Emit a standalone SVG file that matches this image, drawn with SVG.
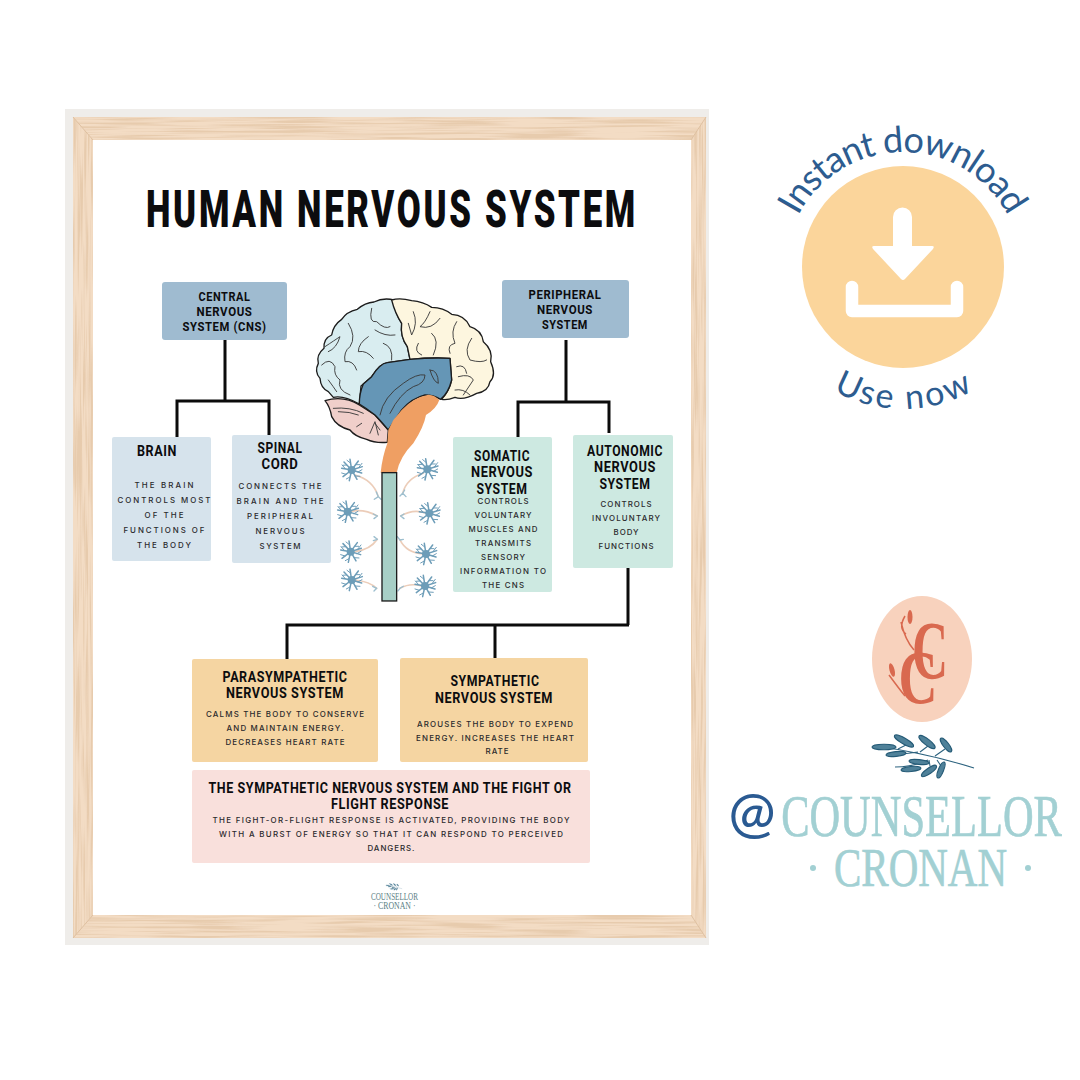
<svg xmlns="http://www.w3.org/2000/svg" xmlns:xlink="http://www.w3.org/1999/xlink" width="1080" height="1080" viewBox="0 0 1080 1080">
<style>
text{text-anchor:middle}
.h{font-family:"Roboto","Liberation Sans",sans-serif;font-weight:700;fill:#0c0c0e;letter-spacing:.7px}
.h1{font-size:13.5px}.h2{font-size:15.5px}.h3{font-size:15px}
.b{font-family:"Inter","Open Sans",sans-serif;font-size:7.900px;font-weight:500;fill:#2a2a2c}
.wire{fill:none;stroke:#0b0b0b;stroke-width:3}
.blue{fill:#9fbbd0}.pale{fill:#d6e3ec}.mint{fill:#cde9e1}.sand{fill:#f5d5a2}.rose{fill:#f9e0dc}
.lobe{stroke:#1c1c1c;stroke-width:4;stroke-linejoin:round}
.sulcus{fill:none;stroke:#3a3a3a;stroke-width:2.800;stroke-linecap:round}
.axon{fill:none;stroke:#eccdb9;stroke-width:5;stroke-linecap:round}
.term{fill:none;stroke:#9dbfcf;stroke-width:4;stroke-linecap:round}
.dl{font-family:"Lato","Open Sans",sans-serif;fill:#2d5c8f}
.brand{font-family:"Liberation Serif",serif;fill:#a2d0d3;stroke:#a2d0d3;stroke-width:.7px}
.tiny{font-family:"Liberation Serif",serif;font-size:10px;fill:#5d7f86}
.leaf{fill:#4f8199;stroke:#245a76;stroke-width:1.100}
.c{font-family:"Liberation Serif",serif;font-weight:700;fill:#d9694f}
.wood{fill:#f3dcc4}
.mitre{stroke:#dfc0a0;stroke-width:1;fill:none}
</style>
<defs>
<filter id="grainH" x="0" y="0" width="100%" height="100%">
<feTurbulence type="fractalNoise" baseFrequency="0.012 0.45" numOctaves="2" seed="4" result="n"/>
<feColorMatrix in="n" type="matrix" values="0 0 0 0 .80  0 0 0 0 .60  0 0 0 0 .42  4 0 0 0 -1.700" result="g"/>
<feComposite in="g" in2="SourceGraphic" operator="in" result="c"/>
<feMerge><feMergeNode in="SourceGraphic"/><feMergeNode in="c"/></feMerge>
</filter>
<filter id="grainV" x="0" y="0" width="100%" height="100%">
<feTurbulence type="fractalNoise" baseFrequency="0.45 0.012" numOctaves="2" seed="9" result="n"/>
<feColorMatrix in="n" type="matrix" values="0 0 0 0 .80  0 0 0 0 .60  0 0 0 0 .42  4 0 0 0 -1.700" result="g"/>
<feComposite in="g" in2="SourceGraphic" operator="in" result="c"/>
<feMerge><feMergeNode in="SourceGraphic"/><feMergeNode in="c"/></feMerge>
</filter>
<g id="neuron">
<g fill="none" stroke="#6d9db8" stroke-width="4.500" stroke-linecap="round">
<path d="M0,0L-30,-5M0,0L-23,-24M0,0L-5,-32M0,0L20,-27M0,0L32,-10M0,0L30,9M0,0L16,28M0,0L-7,32M0,0L-26,20"/>
<path d="M-19,-4L-29,-15M-15,-15L-27,-14M-4,-21L-14,-29M12,-16L24,-16M21,-7L31,-20M19,6L31,-1M10,18L25,19M-5,21L-16,27M-17,13L-30,9" stroke-width="3"/>
</g>
<circle r="12" fill="#6d9db8"/>
</g>
<g id="sprig">
<path d="M-50,-11Q0,-5 51,11M-5,-5Q-25,-2 -35,-2M5,3Q-10,10 -28,10M-25,-8L-17,-12M-3,-5L5,-11M12,-1L22,-8M14,3L18,9M6,3L7,9" fill="none" stroke="#2e6480" stroke-width="1.100"/>
<ellipse class="leaf" cx="-39" cy="-10" rx="12" ry="2.800"/>
<ellipse class="leaf" cx="-27" cy="-3" rx="10" ry="2.400" transform="rotate(-6 -27 -3)"/>
<ellipse class="leaf" cx="-19" cy="-16" rx="11" ry="3" transform="rotate(30 -19 -16)"/>
<ellipse class="leaf" cx="4" cy="-15" rx="10" ry="3" transform="rotate(38 4 -15)"/>
<ellipse class="leaf" cx="23" cy="-12" rx="8.500" ry="2.800" transform="rotate(52 23 -12)"/>
<ellipse class="leaf" cx="-4" cy="5" rx="10" ry="2.400" transform="rotate(6 -4 5)"/>
<ellipse class="leaf" cx="-12" cy="12" rx="10" ry="2.500" transform="rotate(-6 -12 12)"/>
<ellipse class="leaf" cx="6" cy="14" rx="9" ry="2.800" transform="rotate(-35 6 14)"/>
<ellipse class="leaf" cx="18" cy="13" rx="8.500" ry="2.600" transform="rotate(-68 18 13)"/>
</g>
<path id="arcTop" d="M785,270A118,118 0 0 1 1021,270"/>
<path id="arcBottom" d="M761,267A142,142 0 0 0 1045,267"/>
</defs>

<g id="frame">
<rect x="65" y="109" width="644" height="836" fill="#efedea"/>
<polygon class="wood" filter="url(#grainH)" points="73,117 706,117 691,140 93,140"/>
<polygon class="wood" filter="url(#grainH)" points="73,938 706,938 691,915 93,915"/>
<polygon class="wood" filter="url(#grainV)" points="73,117 93,140 93,915 73,938"/>
<polygon class="wood" filter="url(#grainV)" points="706,117 691,140 691,915 706,938"/>
<path class="mitre" d="M73,117L93,140M706,117L691,140M73,938L93,915M706,938L691,915"/>
<rect x="93" y="140" width="598" height="775" fill="#fff"/>
</g>

<text id="title" class="h" x="392" y="227" font-size="52" textLength="492" lengthAdjust="spacingAndGlyphs" style="letter-spacing:4px;font-weight:900">HUMAN NERVOUS SYSTEM</text>

<g id="connectors">
<path class="wire" d="M225,340V400M177,437V401H269V435"/>
<path class="wire" d="M566,340V401M518,437V402H609V433"/>
<path class="wire" d="M628,568V625M287,659V625H629M495,625V658"/>
</g>

<g id="cns">
<rect class="blue" x="162" y="282" width="125" height="58" rx="3"/>
<text class="h h1" x="224.500" y="301" textLength="52" lengthAdjust="spacingAndGlyphs">CENTRAL</text>
<text class="h h1" x="224.500" y="316" textLength="56" lengthAdjust="spacingAndGlyphs">NERVOUS</text>
<text class="h h1" x="224.500" y="331" textLength="84" lengthAdjust="spacingAndGlyphs">SYSTEM (CNS)</text>
</g>
<g id="pns">
<rect class="blue" x="502" y="280" width="127" height="58" rx="3"/>
<text class="h h1" x="565" y="299" textLength="73" lengthAdjust="spacingAndGlyphs">PERIPHERAL</text>
<text class="h h1" x="565" y="314" textLength="56" lengthAdjust="spacingAndGlyphs">NERVOUS</text>
<text class="h h1" x="565" y="329" textLength="46" lengthAdjust="spacingAndGlyphs">SYSTEM</text>
</g>
<g id="brain-box">
<rect class="pale" x="112" y="437" width="99" height="124" rx="2"/>
<text class="h h2" x="157" y="456" textLength="40" lengthAdjust="spacingAndGlyphs">BRAIN</text>
<text class="b" x="164" y="488" textLength="59">THE BRAIN</text>
<text class="b" x="164" y="503" textLength="93">CONTROLS MOST</text>
<text class="b" x="164" y="518" textLength="39">OF THE</text>
<text class="b" x="164" y="533" textLength="81">FUNCTIONS OF</text>
<text class="b" x="164" y="548" textLength="54">THE BODY</text>
</g>
<g id="spinal-box">
<rect class="pale" x="232" y="435" width="99" height="128" rx="2"/>
<text class="h h2" x="280" y="453" textLength="45" lengthAdjust="spacingAndGlyphs">SPINAL</text>
<text class="h h2" x="280" y="469" textLength="37" lengthAdjust="spacingAndGlyphs">CORD</text>
<text class="b" x="280" y="489" textLength="83">CONNECTS THE</text>
<text class="b" x="280" y="504" textLength="87">BRAIN AND THE</text>
<text class="b" x="280" y="519" textLength="66">PERIPHERAL</text>
<text class="b" x="280" y="534" textLength="49">NERVOUS</text>
<text class="b" x="280" y="549" textLength="41">SYSTEM</text>
</g>
<g id="somatic-box">
<rect class="mint" x="453" y="437" width="99" height="155" rx="2"/>
<text class="h h2" x="502" y="461" textLength="56" lengthAdjust="spacingAndGlyphs">SOMATIC</text>
<text class="h h2" x="502" y="477" textLength="62" lengthAdjust="spacingAndGlyphs">NERVOUS</text>
<text class="h h2" x="502" y="494" textLength="51" lengthAdjust="spacingAndGlyphs">SYSTEM</text>
<text class="b" x="503" y="504" textLength="51">CONTROLS</text>
<text class="b" x="503" y="518" textLength="57">VOLUNTARY</text>
<text class="b" x="503" y="532" textLength="69">MUSCLES AND</text>
<text class="b" x="503" y="546" textLength="56">TRANSMITS</text>
<text class="b" x="503" y="560" textLength="44">SENSORY</text>
<text class="b" x="503" y="574" textLength="86">INFORMATION TO</text>
<text class="b" x="503" y="588" textLength="42">THE CNS</text>
</g>
<g id="autonomic-box">
<rect class="mint" x="573" y="435" width="100" height="133" rx="2"/>
<text class="h h2" x="625" y="456" textLength="76" lengthAdjust="spacingAndGlyphs">AUTONOMIC</text>
<text class="h h2" x="625" y="472" textLength="62" lengthAdjust="spacingAndGlyphs">NERVOUS</text>
<text class="h h2" x="625" y="489" textLength="51" lengthAdjust="spacingAndGlyphs">SYSTEM</text>
<text class="b" x="626" y="507" textLength="51">CONTROLS</text>
<text class="b" x="626" y="521" textLength="68">INVOLUNTARY</text>
<text class="b" x="626" y="535" textLength="25">BODY</text>
<text class="b" x="626" y="549" textLength="55">FUNCTIONS</text>
</g>
<g id="parasympathetic-box">
<rect class="sand" x="192" y="659" width="186" height="103" rx="2"/>
<text class="h h3" x="285" y="682" textLength="125" lengthAdjust="spacingAndGlyphs">PARASYMPATHETIC</text>
<text class="h h3" x="285" y="698" textLength="118" lengthAdjust="spacingAndGlyphs">NERVOUS SYSTEM</text>
<text class="b" x="285" y="717" textLength="158">CALMS THE BODY TO CONSERVE</text>
<text class="b" x="285" y="731" textLength="117">AND MAINTAIN ENERGY.</text>
<text class="b" x="285" y="745" textLength="119">DECREASES HEART RATE</text>
</g>
<g id="sympathetic-box">
<rect class="sand" x="400" y="658" width="188" height="104" rx="2"/>
<text class="h h3" x="495" y="686" textLength="89" lengthAdjust="spacingAndGlyphs">SYMPATHETIC</text>
<text class="h h3" x="494" y="703" textLength="118" lengthAdjust="spacingAndGlyphs">NERVOUS SYSTEM</text>
<text class="b" x="495" y="727" textLength="156">AROUSES THE BODY TO EXPEND</text>
<text class="b" x="495" y="741" textLength="158">ENERGY. INCREASES THE HEART</text>
<text class="b" x="497" y="754" textLength="23">RATE</text>
</g>
<g id="fight-box">
<rect class="rose" x="192" y="770" width="398" height="93" rx="2"/>
<text class="h h3" x="390" y="793" textLength="363" lengthAdjust="spacingAndGlyphs">THE SYMPATHETIC NERVOUS SYSTEM AND THE FIGHT OR</text>
<text class="h h3" x="390" y="809" textLength="118" lengthAdjust="spacingAndGlyphs">FLIGHT RESPONSE</text>
<text class="b" x="391" y="823" textLength="357">THE FIGHT-OR-FLIGHT RESPONSE IS ACTIVATED, PROVIDING THE BODY</text>
<text class="b" x="391" y="837" textLength="344">WITH A BURST OF ENERGY SO THAT IT CAN RESPOND TO PERCEIVED</text>
<text class="b" x="391" y="851" textLength="47">DANGERS.</text>
</g>

<g id="brain-figure" transform="translate(300,280) scale(.3333)">
<g>
<path class="axon" d="M165,585Q220,600 235,650M370,580Q320,595 308,640M150,695Q190,685 232,708M380,700Q340,685 302,708M165,815Q210,810 232,778M370,822Q320,820 300,780M165,900Q210,905 230,925M365,918Q330,908 300,925"/>
<path class="term" d="M235,650l-12,8m12,-8l-6,-14m6,14l8,8M308,640l10,10m-10,-10l-8,8m8,-8l6,-10M232,708l-12,-6m12,6l-10,8M302,708l10,-6m-10,6l10,8M232,778l-10,-8m10,8l-12,4M300,780l-8,-10m8,10l10,-2M230,925l-12,-6m12,6l-8,8M300,925l10,-6m-10,6l-6,8"/>
<use xlink:href="#neuron" href="#neuron" x="155" y="570"/>
<use xlink:href="#neuron" href="#neuron" x="382" y="568"/>
<use xlink:href="#neuron" href="#neuron" x="143" y="695"/>
<use xlink:href="#neuron" href="#neuron" x="388" y="700"/>
<use xlink:href="#neuron" href="#neuron" x="152" y="815"/>
<use xlink:href="#neuron" href="#neuron" x="378" y="822"/>
<use xlink:href="#neuron" href="#neuron" x="155" y="900"/>
<use xlink:href="#neuron" href="#neuron" x="375" y="918"/>
</g>
<path class="lobe" fill="#d9edf0" d="M282,60Q250,52 222,66Q195,68 172,88Q140,95 125,118Q100,135 95,165Q70,175 72,205Q48,225 55,250Q42,275 60,295Q62,325 85,335L100,352Q130,345 178,372L183,318L215,290Q240,250 262,248L330,238L322,200Q300,170 305,130Q285,100 282,60Z"/>
<path class="lobe" fill="#fdf6df" d="M275,60Q300,52 335,62Q370,65 395,82Q430,82 455,103Q495,105 510,140Q545,150 550,185Q580,210 572,245Q590,285 570,305Q565,335 530,340Q490,362 465,352Q440,362 425,358Q450,330 455,300L450,235Q390,232 330,238L322,200Q300,170 305,130Q285,100 275,60Z"/>
<path class="lobe" fill="#f0cfca" d="M75,362Q130,345 178,375L225,405L265,450L262,487Q225,490 200,478Q165,470 150,450Q110,440 95,410Q90,380 75,362Z"/>
<path class="lobe" fill="#6596b6" d="M330,238Q400,232 450,235L455,300Q445,340 422,358Q400,345 375,345Q335,355 305,390L265,450Q240,420 225,405Q200,385 178,372Q178,340 190,312L215,290Q240,250 262,248Z"/>
<path fill="#ef9f63" d="M385,344Q405,345 418,360Q410,385 378,405Q372,440 340,490Q300,530 290,578L242,578Q247,530 262,490L265,450L280,420L305,390Q340,352 385,344Z"/>
<rect x="246" y="578" width="44" height="385" fill="#a7cfc6" stroke="#1c1c1c" stroke-width="4"/>
<g class="sulcus">
<path d="M215,85Q205,130 230,125Q255,150 270,140M145,130Q170,170 150,200Q130,215 135,245Q160,240 170,270M75,200Q105,180 120,170Q110,205 85,215M205,170Q175,190 175,215Q200,210 220,235M65,255Q90,230 105,260Q100,285 120,300Q110,330 150,345M225,150Q255,170 285,165M250,190Q280,200 275,240M85,300Q100,320 110,335"/>
<path d="M340,95Q355,130 335,165L325,130M390,95Q375,130 360,140Q395,150 420,115M470,125Q450,155 465,190Q440,195 450,220M515,175Q490,210 510,240Q545,250 560,240M395,160Q420,180 400,225M355,190Q340,215 365,225M475,290Q510,280 520,300L490,345M465,330Q490,325 510,345M470,260Q495,250 500,280"/>
<path d="M240,405Q250,350 310,310Q350,280 375,285Q375,310 340,320Q300,340 270,400M390,270Q415,270 415,310Q400,305 390,270"/>
<path d="M100,385Q150,380 190,400M115,395Q150,395 175,405M170,440L185,430M210,460L225,425L235,465M225,430L240,450"/>
</g>
</g>

<g id="logo-small">
<use xlink:href="#sprig" href="#sprig" transform="translate(394,887) scale(.16)"/>
<text class="tiny" x="394.500" y="900" textLength="47" lengthAdjust="spacingAndGlyphs">COUNSELLOR</text>
<text class="tiny" x="394.500" y="909" textLength="42" lengthAdjust="spacingAndGlyphs">· CRONAN ·</text>
</g>

<g id="download-badge">
<text class="dl" font-size="36"><textPath xlink:href="#arcTop" href="#arcTop" startOffset="50%" textLength="258">Instant download</textPath></text>
<circle cx="903" cy="267" r="101" fill="#fbd59b"/>
<path d="M893,217a9.500,9.500 0 0 1 19,0V246H932q3,0 1,3L905,279q-2,2 -4,0L873,249q-2,-3 1,-3H893Z" fill="#fff"/>
<path d="M852,287V311H957V287" fill="none" stroke="#fff" stroke-width="12.500" stroke-linecap="round" stroke-linejoin="round"/>
<text class="dl" font-size="34"><textPath xlink:href="#arcBottom" href="#arcBottom" startOffset="50%" textLength="146">Use now</textPath></text>
</g>

<g id="monogram">
<ellipse cx="922" cy="659" rx="50" ry="63" fill="#f8d2bd"/>
<text class="c" x="930" y="678" font-size="82" textLength="36" lengthAdjust="spacingAndGlyphs">C</text>
<text class="c" x="918" y="703" font-size="76" textLength="39" lengthAdjust="spacingAndGlyphs">C</text>
<path d="M901,622Q905,640 914,650M889,675Q900,690 905,696M905,616Q898,628 906,634" fill="none" stroke="#d9694f" stroke-width="1.500"/>
<ellipse cx="910" cy="617" rx="2.500" ry="7" fill="#d9694f"/>
<ellipse cx="892" cy="670" rx="2.500" ry="7" fill="#d9694f" transform="rotate(-15 892 670)"/>
</g>
<use id="sprig-large" xlink:href="#sprig" href="#sprig" transform="translate(923,757)"/>
<g id="wordmark">
<text x="752" y="832" font-family="Lato,'Open Sans',sans-serif" font-size="56" font-weight="500" fill="#2a5a92" textLength="47" lengthAdjust="spacingAndGlyphs">@</text>
<text class="brand" transform="translate(921.500,836) scale(.72,1)" font-size="59">COUNSELLOR</text>
<text class="brand" transform="translate(920.500,886) scale(.745,1)" font-size="55">CRONAN</text>
<circle cx="813" cy="868" r="3" fill="#a2d0d3"/>
<circle cx="1028" cy="868" r="3" fill="#a2d0d3"/>
</g>
</svg>
